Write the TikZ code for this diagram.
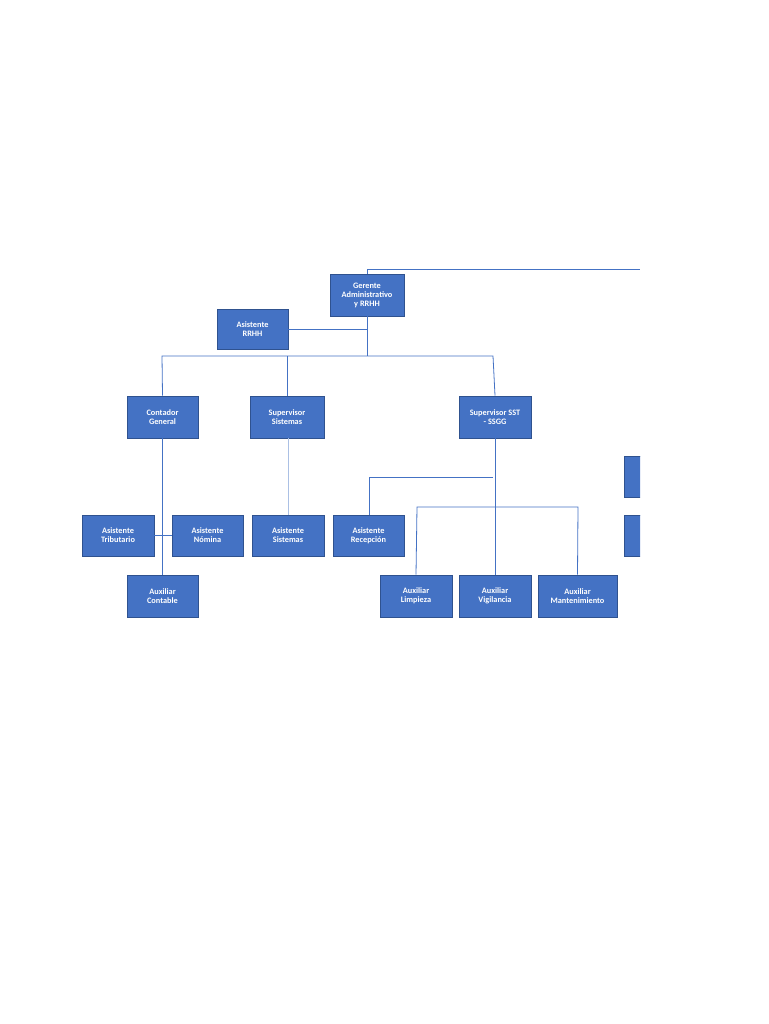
\documentclass[tikz,border=0pt]{standalone}
\usepackage{fontspec}
\setmainfont{Carlito}
\definecolor{boxfill}{HTML}{4472C4}
\definecolor{boxline}{HTML}{2F528F}
\begin{document}
\begin{tikzpicture}[x=1pt,y=-1pt,
  ob/.style={draw=boxline,fill=boxfill,line width=0.8pt,text=white,font=\bfseries\fontsize{8.3}{9}\selectfont,align=center,inner sep=0pt},
  ln/.style={draw=boxfill,line width=0.8pt}]
\useasboundingbox (0,0) rectangle (768,1024);
\begin{scope}
\clip (0,0) rectangle (640,1024);
\newcommand\obox[6]{\node[ob,minimum width=#4-#2,minimum height=#5-#3] (#1) at ({(#2+#4)/2},{(#3+#5)/2}) {#6};}
\obox{ger}{330}{274}{404}{316}{Gerente\\Administrativo\\y RRHH}
\obox{arh}{217}{309}{288}{349}{Asistente\\RRHH}
\obox{cg}{127}{396}{198}{438}{Contador\\General}
\obox{ss}{250}{396}{324}{438}{Supervisor\\Sistemas}
\obox{sst}{459}{396}{531}{438}{Supervisor SST\\- SSGG}
\obox{at}{82}{515}{154}{556}{Asistente\\Tributario}
\obox{an}{172}{515}{243}{556}{Asistente\\Nómina}
\obox{as}{252}{515}{324}{556}{Asistente\\Sistemas}
\obox{ar}{333}{515}{404}{556}{Asistente\\Recepción}
\obox{ac}{127}{575}{198}{617}{Auxiliar\\Contable}
\obox{al}{380}{575}{452}{617}{Auxiliar\\Limpieza}
\obox{av}{459}{575}{531}{617}{Auxiliar\\Vigilancia}
\obox{am}{538}{575}{617}{617}{Auxiliar\\Mantenimiento}
\obox{op}{624}{456}{694}{497}{Operario}
\obox{aa}{624}{515}{694}{556}{Asistente\\Almacén}
\coordinate (tr) at (640,269);
\coordinate (h1) at (367,356);
\draw[ln] (ger.north) -- (367,269) -- (tr);
\draw[ln] (ger.south) -- (h1);
\draw[ln] (arh.east) -- (367,329);
\draw[ln] (cg.north) -- (162,356) -- (493,356) -- (sst.north);
\draw[ln] (ss.north) -- (287,356);
\draw[ln] (cg.south) -- (ac.north);
\draw[ln] (at.east) -- (an.west);
\draw[draw=boxfill!45,line width=0.8pt] (288,438) -- (288,515);
\draw[ln] (sst.south) -- (av.north);
\draw[ln] (493,477) -- (369,477) -- (369,515);
\draw[ln] (al.north) -- (417,507) -- (578,507) -- (am.north);
\end{scope}
\end{tikzpicture}
\end{document}
